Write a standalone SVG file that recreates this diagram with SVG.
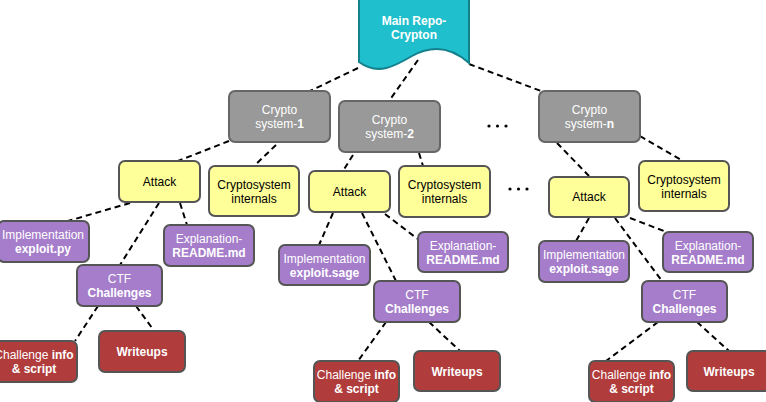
<svg xmlns="http://www.w3.org/2000/svg" width="766" height="402" viewBox="0 0 766 402">
<style>
text{font-family:"Liberation Sans",Arial,sans-serif;font-size:12px;text-anchor:middle}
.b{font-weight:bold}
.w{fill:#ffffff}
.k{fill:#000000}
.gray{fill:#999999;stroke:#666666;stroke-width:2}
.yel{fill:#ffff99;stroke:#555555;stroke-width:2}
.pur{fill:#a57dca;stroke:#555555;stroke-width:2}
.red{fill:#b03c3c;stroke:#555555;stroke-width:2}
.doc{fill:#1fbfcd;stroke:#13808c;stroke-width:2}
.c line{stroke:#000000;stroke-width:2;stroke-dasharray:6 4;fill:none}
.dots{fill:#000000}
</style>
<rect width="766" height="402" fill="#ffffff"/>
<g class="c" id="connectors">
<line x1="358" y1="68" x2="310" y2="91"/>
<line x1="418" y1="60" x2="389" y2="101"/>
<line x1="469" y1="64" x2="541" y2="91"/>
<line x1="229" y1="141" x2="178" y2="161"/>
<line x1="276" y1="145" x2="254" y2="166"/>
<line x1="353" y1="155" x2="343" y2="171"/>
<line x1="419" y1="153" x2="423" y2="166"/>
<line x1="557" y1="143" x2="590" y2="177"/>
<line x1="640" y1="136" x2="683" y2="161"/>
<line x1="130" y1="203" x2="68" y2="221"/>
<line x1="159" y1="203" x2="120" y2="265"/>
<line x1="180" y1="203" x2="187" y2="225"/>
<line x1="333" y1="213" x2="319" y2="245"/>
<line x1="362" y1="213" x2="396" y2="281"/>
<line x1="385" y1="214" x2="419" y2="240"/>
<line x1="589" y1="218" x2="576" y2="241"/>
<line x1="615" y1="218" x2="662" y2="281"/>
<line x1="630" y1="218" x2="669" y2="233"/>
<line x1="98" y1="306" x2="75" y2="341"/>
<line x1="136" y1="306" x2="155" y2="332"/>
<line x1="386" y1="322" x2="358" y2="361"/>
<line x1="429" y1="322" x2="460" y2="351"/>
<line x1="658" y1="322" x2="606" y2="361"/>
<line x1="697" y1="322" x2="729" y2="351"/>
</g>
<g id="main">
<path class="doc" d="M359,-2 H469 V63 C450,46 430,46 412,56 C395,66 378,76 359,62 Z"/>
<text class="w b" x="414" y="25">Main Repo-</text>
<text class="w b" x="414" y="39">Crypton</text>
</g>
<g id="sys1">
<rect class="gray" x="229" y="91" width="101" height="51" rx="6"/>
<text class="w" x="279.5" y="114">Crypto</text>
<text class="w" x="279.5" y="128">system-<tspan class="b">1</tspan></text>
</g>
<g id="sys2">
<rect class="gray" x="339" y="101" width="101" height="51" rx="6"/>
<text class="w" x="389.5" y="124">Crypto</text>
<text class="w" x="389.5" y="138">system-<tspan class="b">2</tspan></text>
</g>
<g id="sysn">
<rect class="gray" x="539" y="91" width="101" height="51" rx="6"/>
<text class="w" x="589.5" y="114">Crypto</text>
<text class="w" x="589.5" y="128">system-<tspan class="b">n</tspan></text>
</g>
<g id="dots1"><circle class="dots" cx="489" cy="126" r="1.6"/><circle class="dots" cx="497.5" cy="126" r="1.6"/><circle class="dots" cx="506" cy="126" r="1.6"/></g>
<g id="dots2"><circle class="dots" cx="510" cy="189" r="1.6"/><circle class="dots" cx="518.5" cy="189" r="1.6"/><circle class="dots" cx="527" cy="189" r="1.6"/></g>
<g id="attack1">
<rect class="yel" x="119" y="161" width="81" height="41" rx="6"/>
<text class="k" x="159.5" y="186">Attack</text>
</g>
<g id="int1">
<rect class="yel" x="209" y="166" width="90" height="50" rx="6"/>
<text class="k" x="254" y="189">Cryptosystem</text>
<text class="k" x="254" y="203">internals</text>
</g>
<g id="attack2">
<rect class="yel" x="309" y="171" width="81" height="41" rx="6"/>
<text class="k" x="349.5" y="196">Attack</text>
</g>
<g id="int2">
<rect class="yel" x="399" y="166" width="91" height="51" rx="6"/>
<text class="k" x="444.5" y="189">Cryptosystem</text>
<text class="k" x="444.5" y="203">internals</text>
</g>
<g id="attackn">
<rect class="yel" x="549" y="177" width="80" height="40" rx="6"/>
<text class="k" x="589" y="201">Attack</text>
</g>
<g id="intn">
<rect class="yel" x="639" y="161" width="90" height="50" rx="6"/>
<text class="k" x="684" y="184">Cryptosystem</text>
<text class="k" x="684" y="198">internals</text>
</g>
<g id="impl1">
<rect class="pur" x="-2" y="221" width="91" height="41" rx="6"/>
<text class="w" x="43" y="239">Implementation</text>
<text class="w b" x="43" y="253">exploit.py</text>
</g>
<g id="expl1">
<rect class="pur" x="164" y="225" width="90" height="41" rx="6"/>
<text class="w" x="209" y="243">Explanation-</text>
<text class="w b" x="209" y="257">README.md</text>
</g>
<g id="ctf1">
<rect class="pur" x="77" y="265" width="85" height="41" rx="6"/>
<text class="w" x="119.5" y="283">CTF</text>
<text class="w b" x="119.5" y="297">Challenges</text>
</g>
<g id="chal1">
<rect class="red" x="-9" y="341" width="86" height="41" rx="6"/>
<text class="w" x="34" y="359">Challenge <tspan class="b">info</tspan></text>
<text class="w b" x="34" y="373">&amp; script</text>
</g>
<g id="wr1">
<rect class="red" x="99" y="331" width="86" height="41" rx="6"/>
<text class="w b" x="142" y="356">Writeups</text>
</g>
<g id="impl2">
<rect class="pur" x="279" y="245" width="91" height="40" rx="6"/>
<text class="w" x="324.5" y="263">Implementation</text>
<text class="w b" x="324.5" y="277">exploit.sage</text>
</g>
<g id="expl2">
<rect class="pur" x="418" y="232" width="90" height="40" rx="6"/>
<text class="w" x="463" y="250">Explanation-</text>
<text class="w b" x="463" y="264">README.md</text>
</g>
<g id="ctf2">
<rect class="pur" x="374" y="281" width="86" height="41" rx="6"/>
<text class="w" x="417" y="299">CTF</text>
<text class="w b" x="417" y="313">Challenges</text>
</g>
<g id="chal2">
<rect class="red" x="314" y="361" width="85" height="41" rx="6"/>
<text class="w" x="356.5" y="379">Challenge <tspan class="b">info</tspan></text>
<text class="w b" x="356.5" y="393">&amp; script</text>
</g>
<g id="wr2">
<rect class="red" x="414" y="351" width="86" height="40" rx="6"/>
<text class="w b" x="457" y="376">Writeups</text>
</g>
<g id="impln">
<rect class="pur" x="539" y="241" width="90" height="41" rx="6"/>
<text class="w" x="584" y="259">Implementation</text>
<text class="w b" x="584" y="273">exploit.sage</text>
</g>
<g id="expln">
<rect class="pur" x="663" y="232" width="90" height="40" rx="6"/>
<text class="w" x="708" y="250">Explanation-</text>
<text class="w b" x="708" y="264">README.md</text>
</g>
<g id="ctfn">
<rect class="pur" x="642" y="281" width="85" height="41" rx="6"/>
<text class="w" x="684.5" y="299">CTF</text>
<text class="w b" x="684.5" y="313">Challenges</text>
</g>
<g id="chaln">
<rect class="red" x="589" y="361" width="85" height="41" rx="6"/>
<text class="w" x="631.5" y="379">Challenge <tspan class="b">info</tspan></text>
<text class="w b" x="631.5" y="393">&amp; script</text>
</g>
<g id="wrn">
<rect class="red" x="687" y="351" width="86" height="40" rx="6"/>
<text class="w b" x="729" y="376">Writeups</text>
</g>
</svg>
